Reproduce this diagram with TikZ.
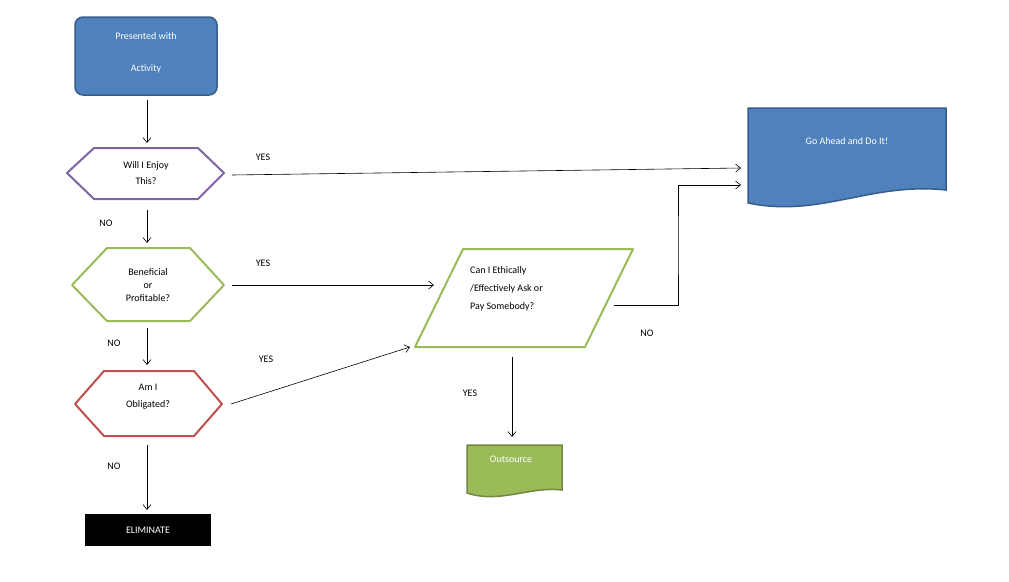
\documentclass[tikz,border=0pt]{standalone}
\usepackage{fontspec}
\setmainfont{Carlito}
\usetikzlibrary{arrows.meta}
\definecolor{blu}{RGB}{79,129,189}
\definecolor{bluD}{RGB}{56,93,138}
\definecolor{pur}{RGB}{128,100,162}
\definecolor{grn}{RGB}{155,187,89}
\definecolor{grnD}{RGB}{113,137,63}
\definecolor{rd}{RGB}{192,80,77}
\begin{document}
\begin{tikzpicture}[x=1pt,y=-1pt,font=\fontsize{10}{12}\selectfont,
  arr/.style={-{Straight Barb[length=5pt,width=8pt]},line width=0.6pt},
  lbl/.style={inner sep=0pt},
  hex/.style={line width=2pt,fill=white,line join=round}]
\useasboundingbox (0,0) rectangle (1009,581);
% start
\draw[fill=blu,draw=bluD,line width=1.5pt,rounded corners=8pt] (75,17) rectangle (217,95);
\node[lbl,text=white] (s1) at (146,36) {Presented with};
\node[lbl,text=white] (s2) at (146,69) {Activity};
\coordinate (sB) at (147,100);
% hexagons
\draw[hex,draw=pur] (67,173)--(94,148)--(198,148)--(224,173)--(198,199)--(94,199)--cycle;
\node[lbl,align=center] (h1) at (146,173) {Will I Enjoy\\[4pt]This?};
\draw[hex,draw=grn] (72,285)--(107,248)--(190,248)--(224,285)--(190,321)--(107,321)--cycle;
\node[lbl,align=center] (h2) at (148,285) {Beneficial\\[1pt]or\\[1pt]Profitable?};
\draw[hex,draw=rd] (75,404)--(104,371)--(194,371)--(222,404)--(194,436)--(104,436)--cycle;
\node[lbl,align=center] (h3) at (148,397) {Am I\\[5pt]Obligated?};
% eliminate
\node[fill=black,text=white,minimum width=126pt,minimum height=32pt,inner sep=0pt] (el) at (148,530) {ELIMINATE};
% parallelogram
\draw[line width=2pt,draw=grn,fill=white,line join=round] (415,347)--(463,249)--(633,249)--(585,347)--cycle;
\node[lbl,align=left,anchor=west] (pq) at (470,289) {Can I Ethically\\[6pt]/Effectively Ask or\\[6pt]Pay Somebody?};
% outsource
\draw[fill=grn,draw=grnD,line width=1.5pt] (467,445)--(562,445)--(562,490) .. controls (530,486) and (500,504) .. (467,493)--cycle;
\node[lbl,text=white] (os) at (511,459) {Outsource};
% go ahead
\draw[fill=blu,draw=bluD,line width=1.5pt] (748,108)--(946,108)--(946,190) .. controls (870,182) and (820,218) .. (748,203)--cycle;
\node[lbl,text=white] (go) at (847,141) {Go Ahead and Do It!};
% coordinates
\coordinate (h1T) at (147,143); \coordinate (h1B) at (147,210);
\coordinate (h2T) at (147,243); \coordinate (h2B) at (147,328);
\coordinate (h3T) at (147,365); \coordinate (h3B) at (147,445);
\coordinate (elT) at (147,510);
\coordinate (h1R) at (232,175); \coordinate (goL1) at (741,168);
\coordinate (h2R) at (232,285); \coordinate (pqL) at (434,285);
\coordinate (h3R) at (231,404); \coordinate (pqBL) at (410,347);
\coordinate (pqR) at (614,305); \coordinate (goL2) at (741,185);
\coordinate (pqB) at (512,357); \coordinate (osT) at (512,437);
% arrows
\draw[arr] (sB)--(h1T);
\draw[arr] (h1B)--(h2T);
\draw[arr] (h2B)--(h3T);
\draw[arr] (h3B)--(elT);
\draw[arr] (h1R)--(goL1);
\draw[arr] (h2R)--(pqL);
\draw[arr] (h3R)--(pqBL);
\draw[arr] (pqR)-|(678,245)|-(goL2);
\draw[arr] (pqB)--(osT);
% labels
\node[lbl] (y1) at (263,157) {YES};
\node[lbl] (y2) at (263,263) {YES};
\node[lbl] (y3) at (266,359) {YES};
\node[lbl] (y4) at (470,393) {YES};
\node[lbl] (n1) at (106,223) {NO};
\node[lbl] (n2) at (114,343) {NO};
\node[lbl] (n3) at (114,466) {NO};
\node[lbl] (n4) at (647,333) {NO};
\end{tikzpicture}
\end{document}
